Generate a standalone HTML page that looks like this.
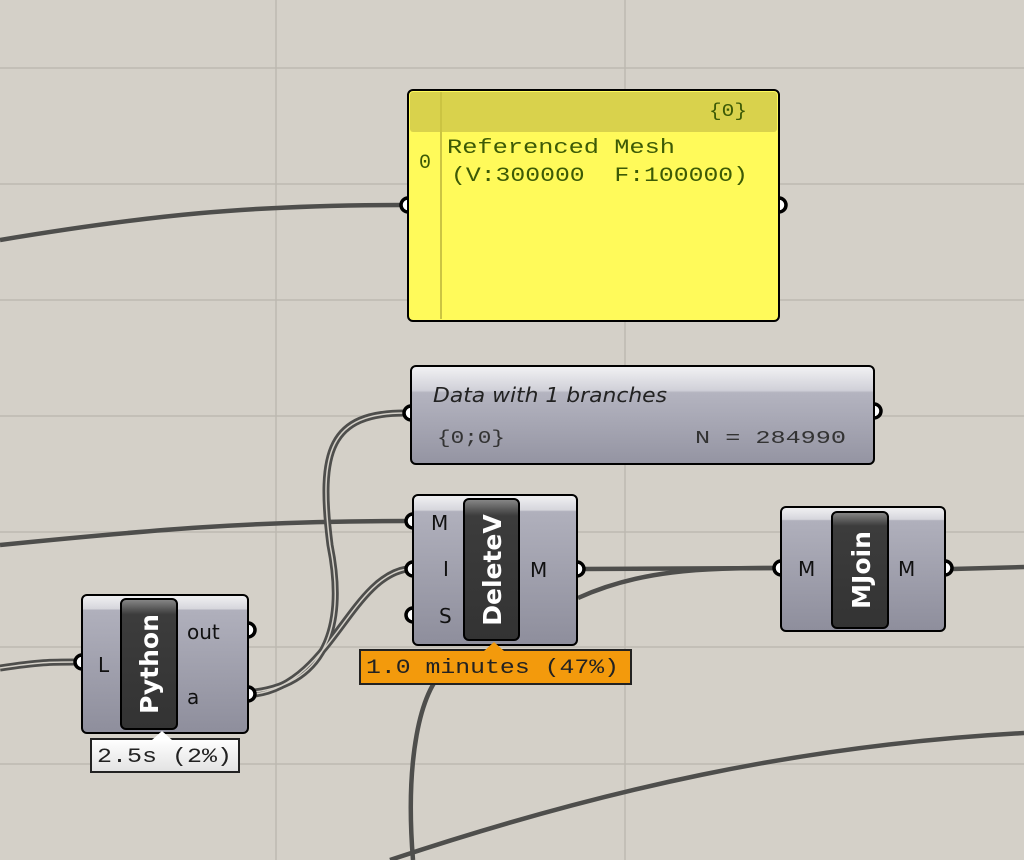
<!DOCTYPE html>
<html><head><meta charset="utf-8"><style>
html,body{margin:0;padding:0;background:#d4d0c8;}
svg{display:block}
.mono{font-family:"Liberation Mono",monospace}
.sans{font-family:"DejaVu Sans","Liberation Sans",sans-serif}
</style></head><body>
<svg width="1024" height="860" viewBox="0 0 1024 860" xmlns="http://www.w3.org/2000/svg">
<defs>
<linearGradient id="comp" x1="0" y1="0" x2="0" y2="1">
<stop offset="0" stop-color="#f2f2f4"/><stop offset="0.1" stop-color="#d6d6dc"/><stop offset="0.11" stop-color="#b0b0bc"/><stop offset="1" stop-color="#8e8e9c"/></linearGradient>
<linearGradient id="panel" x1="0" y1="0" x2="0" y2="1">
<stop offset="0" stop-color="#f2f2f4"/><stop offset="0.25" stop-color="#d0d0d8"/><stop offset="0.27" stop-color="#b4b4c0"/><stop offset="1" stop-color="#9494a2"/></linearGradient>
<linearGradient id="cap" x1="0" y1="0" x2="0" y2="1">
<stop offset="0" stop-color="#8a8a8a"/><stop offset="0.08" stop-color="#555"/><stop offset="0.12" stop-color="#3c3c3c"/><stop offset="1" stop-color="#333"/></linearGradient>
<linearGradient id="tag" x1="0" y1="0" x2="0" y2="1">
<stop offset="0" stop-color="#ffffff"/><stop offset="1" stop-color="#e2e2e2"/></linearGradient>
</defs>
<g stroke="#bdb9b1" stroke-width="1.5">
<line x1="0" y1="68" x2="1024" y2="68"/><line x1="0" y1="184" x2="1024" y2="184"/>
<line x1="0" y1="300" x2="1024" y2="300"/><line x1="0" y1="416" x2="1024" y2="416"/>
<line x1="0" y1="532" x2="1024" y2="532"/><line x1="0" y1="647" x2="1024" y2="647"/>
<line x1="0" y1="764" x2="1024" y2="764"/>
<line x1="276" y1="0" x2="276" y2="860"/><line x1="625" y1="0" x2="625" y2="860"/>
</g>
<g fill="none" stroke="#4e4e4c" stroke-width="4.5">
<path d="M0,240 C150,215 250,205 403,205"/>
<path d="M0,545 C150,530 250,521 407,521"/>
<path d="M582,569 C650,569 700,568 778,568"/>
<path d="M578,598 C640,570 700,568 778,568"/>
<path d="M952,569 L1024,567"/>
<path d="M413,860 C405,760 420,690 445,670"/>
<path d="M390,860 C600,790 800,745 1024,733"/>
</g>
<g fill="none" stroke="#4e4e4c" stroke-width="7">
<path d="M0,668 C40,662 50,662 77,662"/>
<path d="M255,692 C330,682 345,620 330,545 C318,450 330,413 405,413"/>
<path d="M255,694 C330,684 350,578 407,569"/>
</g>
<g fill="none" stroke="#d4d0c8" stroke-width="1.5">
<path d="M0,668 C40,662 50,662 77,662"/>
<path d="M255,692 C330,682 345,620 330,545 C318,450 330,413 405,413"/>
<path d="M255,694 C330,684 350,578 407,569"/>
</g>
<g fill="#fff" stroke="#000" stroke-width="3.5">
<circle cx="408" cy="205" r="7"/><circle cx="779" cy="205" r="7"/>
<circle cx="411" cy="413" r="7"/><circle cx="874" cy="411" r="7"/>
<circle cx="413" cy="521" r="7"/><circle cx="413" cy="569" r="7"/><circle cx="413" cy="615" r="7"/>
<circle cx="577" cy="569" r="7"/>
<circle cx="781" cy="568" r="7"/><circle cx="945" cy="568" r="7"/>
<circle cx="82" cy="662" r="7"/><circle cx="248" cy="630" r="7"/><circle cx="248" cy="694" r="7"/>
</g>
<rect x="408" y="90" width="371" height="231" rx="5" fill="#fffa5a" stroke="#000" stroke-width="2"/>
<rect x="410" y="92" width="367" height="40" rx="3" fill="#d9d24c"/>
<line x1="441" y1="92" x2="441" y2="319" stroke="#cbc442" stroke-width="2"/>
<g class="mono" fill="#3c5a06" font-size="20">
<text x="709" y="116" font-size="18" textLength="38" lengthAdjust="spacingAndGlyphs">{0}</text>
<text x="419" y="168" font-size="20">0</text>
<text x="447" y="153" textLength="228" lengthAdjust="spacingAndGlyphs">Referenced Mesh</text>
<text x="451" y="181" xml:space="preserve" textLength="297" lengthAdjust="spacingAndGlyphs">(V:300000  F:100000)</text>
</g>
<rect x="411" y="366" width="463" height="98" rx="5" fill="url(#panel)" stroke="#000" stroke-width="2"/>
<text x="433" y="402" class="sans" font-style="italic" font-size="20" fill="#222" textLength="234" lengthAdjust="spacingAndGlyphs">Data with 1 branches</text>
<text x="437" y="443" class="mono" font-size="18" fill="#333" textLength="68" lengthAdjust="spacingAndGlyphs">{0;0}</text>
<text x="695" y="443" class="mono" font-size="18" fill="#333" textLength="151" lengthAdjust="spacingAndGlyphs">N = 284990</text>
<rect x="413" y="495" width="164" height="150" rx="5" fill="url(#comp)" stroke="#000" stroke-width="2"/>
<rect x="464" y="499" width="55" height="141" rx="5" fill="url(#cap)" stroke="#000" stroke-width="2"/>
<text transform="translate(501,570) rotate(-90)" class="sans" font-weight="bold" font-size="25" fill="#fff" text-anchor="middle">DeleteV</text>
<g class="sans" font-size="20" fill="#111">
<text x="431" y="530">M</text><text x="443" y="576">I</text><text x="439" y="623">S</text><text x="530" y="577">M</text>
</g>
<rect x="360" y="650" width="271" height="34" fill="#f39a0c" stroke="#222" stroke-width="2"/>
<path d="M484,651 L494,642 L504,651 Z" fill="#f39a0c"/>
<text x="366" y="673" class="mono" font-size="20" fill="#222" textLength="253" lengthAdjust="spacingAndGlyphs">1.0 minutes (47%)</text>
<rect x="781" y="507" width="164" height="124" rx="5" fill="url(#comp)" stroke="#000" stroke-width="2"/>
<rect x="832" y="512" width="56" height="116" rx="5" fill="url(#cap)" stroke="#000" stroke-width="2"/>
<text transform="translate(870,570) rotate(-90)" class="sans" font-weight="bold" font-size="25" fill="#fff" text-anchor="middle">MJoin</text>
<g class="sans" font-size="20" fill="#111"><text x="798" y="576">M</text><text x="898" y="576">M</text></g>
<rect x="82" y="595" width="166" height="138" rx="5" fill="url(#comp)" stroke="#000" stroke-width="2"/>
<rect x="121" y="599" width="56" height="130" rx="5" fill="url(#cap)" stroke="#000" stroke-width="2"/>
<text transform="translate(158,664) rotate(-90)" class="sans" font-weight="bold" font-size="25" fill="#fff" text-anchor="middle">Python</text>
<g class="sans" font-size="20" fill="#111"><text x="98" y="672">L</text><text x="187" y="639">out</text><text x="187" y="704">a</text></g>
<rect x="91" y="739" width="148" height="33" fill="url(#tag)" stroke="#222" stroke-width="2"/>
<path d="M152,740 L162,731 L172,740 Z" fill="#fff"/>
<text x="97" y="762" class="mono" font-size="20" fill="#222" textLength="135" lengthAdjust="spacingAndGlyphs">2.5s (2%)</text>
</svg>
</body></html>
